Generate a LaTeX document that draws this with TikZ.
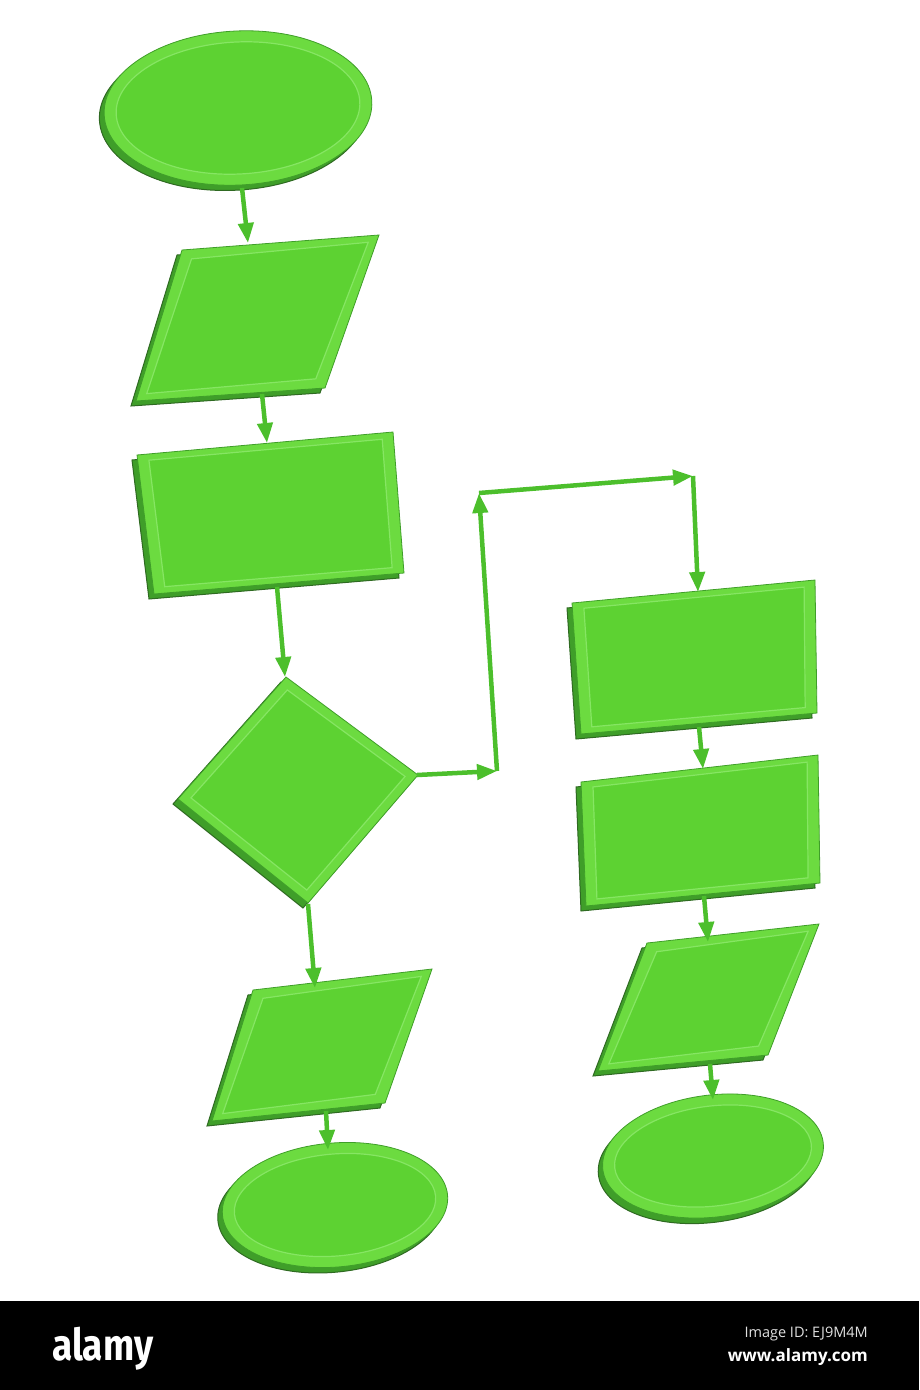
\documentclass[tikz,border=0pt]{standalone}
\usepackage{fontspec}
\newfontfamily\barfont{Open Sans}
\newfontfamily\logofont{Fira Sans}
\usetikzlibrary{calc,arrows.meta}
\definecolor{flowface}{HTML}{5DD232}
\definecolor{flowrim}{HTML}{6CDB40}
\definecolor{flowside}{HTML}{3F9E29}
\definecolor{flowedge}{HTML}{2F6A22}
\definecolor{flowlite}{HTML}{86E663}
\definecolor{flowline}{HTML}{4CBF2C}
\begin{document}
\begin{tikzpicture}[x=1pt, y=-1pt,
    sideface/.style={fill=flowside, draw=flowedge, line width=1pt},
    rimface/.style={fill=flowrim, draw=flowside, line width=0.8pt},
    topface/.style={fill=flowface, draw=flowlite, line width=1.2pt},
    flowarrow/.style={-{Triangle[length=20pt, width=15pt]}, line width=4.5pt, flowline}]

      \useasboundingbox (0,0) rectangle (919,1390);

      % slanted and square boxes
      \foreach \nm/\pa/\pb/\pc/\pd in {in1/{(182,250)}/{(379,235)}/{(325,388)}/{(136,401)},
          proc1/{(137,455)}/{(393,432)}/{(404,573)}/{(154,594)},
          dec/{(286,677)}/{(418,775)}/{(308,903)}/{(178,799)},
          out1/{(253,990)}/{(432,969)}/{(385,1103)}/{(212,1121)},
          proc2/{(572,603)}/{(815,580)}/{(817,713)}/{(581,734)},
          proc3/{(581,782)}/{(818,755)}/{(820,883)}/{(586,906)},
          out2/{(647,943)}/{(819,924)}/{(768,1055)}/{(598,1071)}}{
        \path \pa coordinate (\nm-a) \pb coordinate (\nm-b)
              \pc coordinate (\nm-c) \pd coordinate (\nm-d);
        \path ($0.25*(\nm-a)+0.25*(\nm-b)+0.25*(\nm-c)+0.25*(\nm-d)$) coordinate (\nm);
        \filldraw[sideface] ([shift={(-5,5)}]\nm-a) -- ([shift={(-5,5)}]\nm-b)
          -- ([shift={(-5,5)}]\nm-c) -- ([shift={(-5,5)}]\nm-d) -- cycle;
        \filldraw[rimface] (\nm-a) -- (\nm-b) -- (\nm-c) -- (\nm-d) -- cycle;
        \filldraw[topface] ($(\nm-a)!13pt!(\nm)$) -- ($(\nm-b)!13pt!(\nm)$)
          -- ($(\nm-c)!13pt!(\nm)$) -- ($(\nm-d)!13pt!(\nm)$) -- cycle;
      }

      % start and end ovals
      \foreach \nm/\cx/\cy/\rx/\ry/\tl in {start/238/108/134/77/3,
          stop1/335/1205/113/62/5, stop2/713/1156/111/61/7}{
        \begin{scope}[shift={(\cx,\cy)}, rotate=\tl]
          \filldraw[sideface] (-5,5) ellipse [x radius=\rx, y radius=\ry];
          \filldraw[rimface] (0,0) coordinate (\nm) ellipse [x radius=\rx, y radius=\ry];
          \filldraw[topface] (0,0) ellipse [x radius=\rx-12, y radius=\ry-11];
        \end{scope}
      }

      % where the connectors meet the boxes
      \coordinate (start-s) at (242,188);
      \coordinate (in1-n) at (248,243);
      \coordinate (in1-s) at (262,394);
      \coordinate (proc1-n) at (267,443);
      \coordinate (proc1-s) at (277,587);
      \coordinate (dec-n) at (285,677);
      \coordinate (dec-e) at (417,775);
      \coordinate (dec-s) at (308,904);
      \coordinate (out1-n) at (315,988);
      \coordinate (out1-s) at (326,1111);
      \coordinate (stop1-n) at (328,1150);
      \coordinate (bend1) at (497,771);
      \coordinate (bend2) at (479,493);
      \coordinate (bend3) at (693,476);
      \coordinate (proc2-n) at (698,592);
      \coordinate (proc2-s) at (699,727);
      \coordinate (proc3-n) at (703,769);
      \coordinate (proc3-s) at (704,896);
      \coordinate (out2-n) at (708,942);
      \coordinate (out2-s) at (710,1064);
      \coordinate (stop2-n) at (713,1100);

      \draw[flowarrow] (start-s) -- (in1-n);
      \draw[flowarrow] (in1-s) -- (proc1-n);
      \draw[flowarrow] (proc1-s) -- (dec-n);
      \draw[flowarrow] (dec-s) -- (out1-n);
      \draw[flowarrow] (out1-s) -- (stop1-n);
      \draw[flowarrow] (dec-e) -- (bend1);
      \draw[flowarrow] (bend1) -- (bend2);
      \draw[flowarrow] (bend2) -- (bend3);
      \draw[flowarrow] (bend3) -- (proc2-n);
      \draw[flowarrow] (proc2-s) -- (proc3-n);
      \draw[flowarrow] (proc3-s) -- (out2-n);
      \draw[flowarrow] (out2-s) -- (stop2-n);

      % bottom strip
      \fill[black] (0,1301) rectangle (919,1390);
      \node[anchor=base west, inner sep=0pt, text=white,
        font=\logofont\bfseries\fontsize{44}{44}\selectfont] (logo) at (52,1360) {\scalebox{0.84}[1]{alamy}};
      \node[anchor=base east, inner sep=0pt, text=white!88!black,
        font=\barfont\fontsize{14.5}{15}\selectfont] (imgid) at (868,1337) {Image ID: EJ9M4M};
      \node[anchor=base east, inner sep=0pt, text=white,
        font=\barfont\bfseries\fontsize{17}{18}\selectfont] (site) at (868,1361) {www.alamy.com};

    \end{tikzpicture}
\end{document}
